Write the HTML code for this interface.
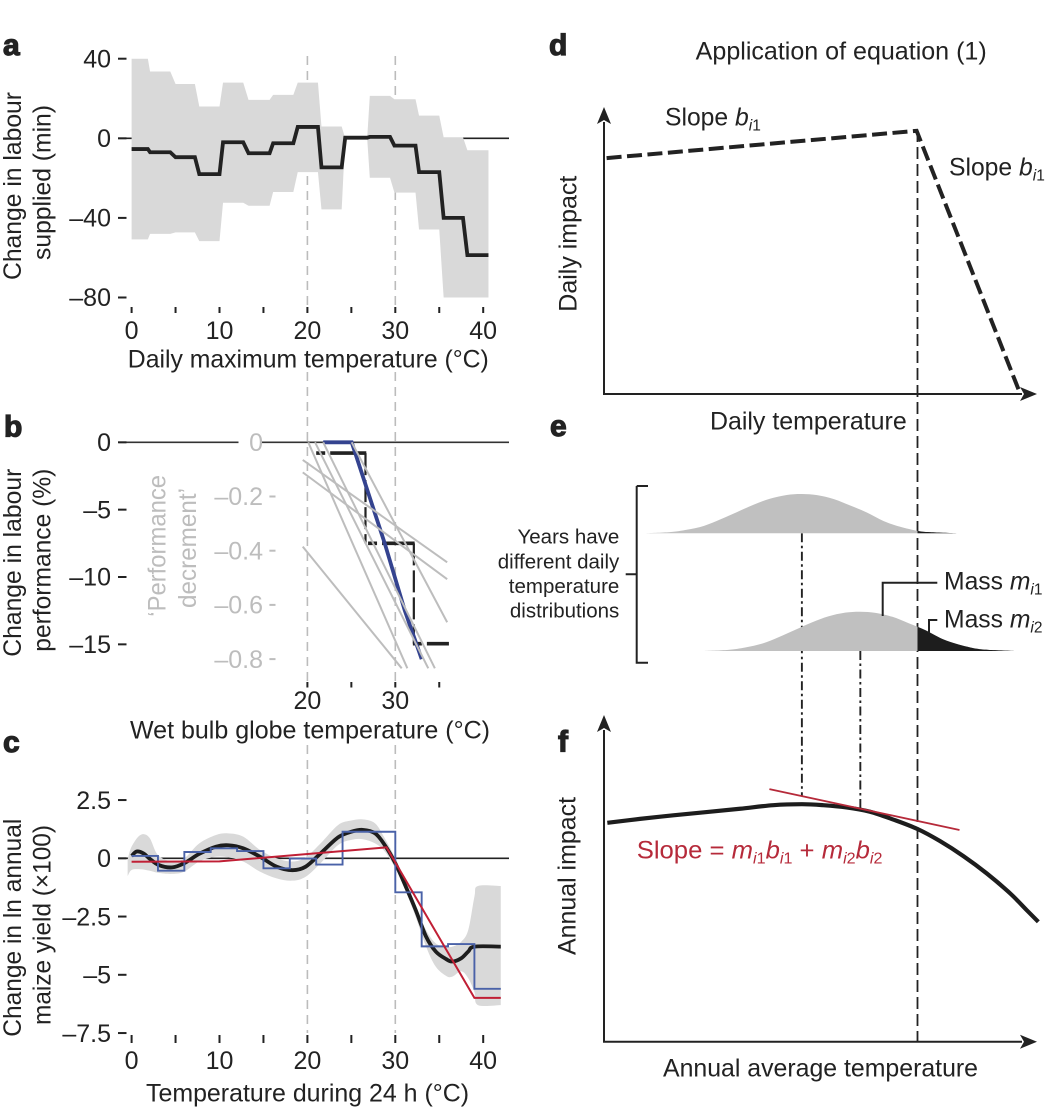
<!DOCTYPE html>
<html lang="en">
<head>
<meta charset="utf-8">
<title>Temperature impact panels</title>
<style>
html,body{margin:0;padding:0;background:#fff;width:1052px;height:1108px;overflow:hidden}
svg{display:block}
text{font-family:"Liberation Sans",Arial,sans-serif;fill:#222}
.lab{font-size:24.7px}
.sm{font-size:20.5px}
.pl{font-size:30px;font-weight:700;stroke:#222;stroke-width:1.2px}
.gr{fill:#bdbdbd}
.it{font-style:italic}
</style>
</head>
<body>
<svg id="fig" xmlns="http://www.w3.org/2000/svg" width="1052" height="1108" viewBox="0 0 1052 1108">
  <g id="guides"></g>
  <g id="pa"></g>
  <g id="pb"></g>
  <g id="pc"></g>
  <g id="pd"></g>
  <g id="pe"></g>
  <g id="pf"></g>

  <!-- panel letters -->
  <text class="pl" x="3" y="55">a</text>
  <text class="pl" x="4" y="436.5">b</text>
  <text class="pl" x="3" y="752">c</text>
  <text class="pl" x="549" y="55">d</text>
  <text class="pl" x="550" y="436">e</text>
  <text class="pl" x="558" y="751.5">f</text>

  <!-- left axis titles -->
  <text class="lab" x="127.8" y="367.5" textLength="361" lengthAdjust="spacingAndGlyphs">Daily maximum temperature (°C)</text>
  <text class="lab" x="130" y="738.5" textLength="360" lengthAdjust="spacingAndGlyphs">Wet bulb globe temperature (°C)</text>
  <text class="lab" x="146" y="1101.5" textLength="323" lengthAdjust="spacingAndGlyphs">Temperature during 24 h (°C)</text>

  <text class="lab" transform="translate(21,280) rotate(-90)" textLength="188" lengthAdjust="spacingAndGlyphs">Change in labour</text>
  <text class="lab" transform="translate(50.7,260) rotate(-90)" textLength="155" lengthAdjust="spacingAndGlyphs">supplied (min)</text>
  <text class="lab" transform="translate(21,656.7) rotate(-90)" textLength="188" lengthAdjust="spacingAndGlyphs">Change in labour</text>
  <text class="lab" transform="translate(50.7,651.7) rotate(-90)" textLength="183" lengthAdjust="spacingAndGlyphs">performance (%)</text>
  <text class="lab" transform="translate(21,1036.7) rotate(-90)" textLength="218" lengthAdjust="spacingAndGlyphs">Change in ln annual</text>
  <text class="lab" transform="translate(50.7,1025) rotate(-90)" textLength="200" lengthAdjust="spacingAndGlyphs">maize yield (×100)</text>
  <text class="lab gr" transform="translate(165.6,616.7) rotate(-90)" textLength="141.7" lengthAdjust="spacingAndGlyphs">‘Performance</text>
  <text class="lab gr" transform="translate(196,608) rotate(-90)" textLength="120" lengthAdjust="spacingAndGlyphs">decrement’</text>

  <!-- panel d text -->
  <text class="lab" x="695.7" y="59.3" textLength="291" lengthAdjust="spacingAndGlyphs">Application of equation (1)</text>
  <text class="lab" x="665" y="125.7">Slope <tspan class="it">b</tspan><tspan class="it" font-size="15.5" dy="5">i</tspan><tspan font-size="15.5">1</tspan></text>
  <text class="lab" x="949" y="175.7">Slope <tspan class="it">b</tspan><tspan class="it" font-size="15.5" dy="5">i</tspan><tspan font-size="15.5">1</tspan></text>
  <text class="lab" transform="translate(576.7,311.7) rotate(-90)" textLength="136" lengthAdjust="spacingAndGlyphs">Daily impact</text>
  <text class="lab" x="710" y="429.3" textLength="196.7" lengthAdjust="spacingAndGlyphs">Daily temperature</text>

  <!-- panel e text -->
  <g text-anchor="end">
    <text class="sm" x="619.3" y="543.3">Years have</text>
    <text class="sm" x="619.3" y="568.3">different daily</text>
    <text class="sm" x="619.3" y="593">temperature</text>
    <text class="sm" x="619.3" y="617.7">distributions</text>
  </g>
  <text class="lab" x="944" y="589.3">Mass <tspan class="it">m</tspan><tspan class="it" font-size="15.5" dy="5">i</tspan><tspan font-size="15.5">1</tspan></text>
  <text class="lab" x="944" y="627.3">Mass <tspan class="it">m</tspan><tspan class="it" font-size="15.5" dy="5">i</tspan><tspan font-size="15.5">2</tspan></text>
  <path d="M636.7 486H648M636.7 486V662.7H648M625.7 574.3H636.7" fill="none" stroke="#222" stroke-width="2"/>
  <path d="M882.7 616V582.7H937.3" fill="none" stroke="#222" stroke-width="2"/>
  <path d="M929 632.7V620H937.3" fill="none" stroke="#222" stroke-width="2"/>

  <!-- panel f text -->
  <text class="lab" transform="translate(575.7,955) rotate(-90)" textLength="158" lengthAdjust="spacingAndGlyphs">Annual impact</text>
  <text class="lab" x="663" y="1076.7" textLength="315" lengthAdjust="spacingAndGlyphs">Annual average temperature</text>
  <text class="lab" transform="translate(636.7,858.3) scale(1.04,1)" style="fill:#b62a3a"><tspan style="fill:#b62a3a">Slope = </tspan><tspan class="it" style="fill:#b62a3a">m</tspan><tspan class="it" style="fill:#b62a3a" font-size="15.5" dy="5">i</tspan><tspan style="fill:#b62a3a" font-size="15.5">1</tspan><tspan class="it" style="fill:#b62a3a" dy="-5">b</tspan><tspan class="it" style="fill:#b62a3a" font-size="15.5" dy="5">i</tspan><tspan style="fill:#b62a3a" font-size="15.5">1</tspan><tspan style="fill:#b62a3a" dy="-5"> + </tspan><tspan class="it" style="fill:#b62a3a">m</tspan><tspan class="it" style="fill:#b62a3a" font-size="15.5" dy="5">i</tspan><tspan style="fill:#b62a3a" font-size="15.5">2</tspan><tspan class="it" style="fill:#b62a3a" dy="-5">b</tspan><tspan class="it" style="fill:#b62a3a" font-size="15.5" dy="5">i</tspan><tspan style="fill:#b62a3a" font-size="15.5">2</tspan></text>

  <!-- schematic axes -->
  <path d="M604 122V394H1022" fill="none" stroke="#222" stroke-width="2"/>
  <path d="M604 107L611 124L604 120L597 124Z" fill="#222"/>
  <path d="M1037 394L1020 387L1024 394L1020 401Z" fill="#222"/>
  <path d="M604 730V1041.7H1022" fill="none" stroke="#222" stroke-width="2"/>
  <path d="M604 715L611 732L604 728L597 732Z" fill="#222"/>
  <path d="M1037 1041.7L1020 1034.7L1024 1041.7L1020 1048.7Z" fill="#222"/>
</svg>

<script>
// ---------- Panel a data ----------
const aBinLow = [0,2.1,5,7.7,10.4,13.3,16.1,18.9,21.6,24.3,27.1,29.9,32.7,35.5,38.2];
const aBinHigh = [1.85,4.4,7.2,10,12.7,15.7,18.4,21.2,23.9,26.8,29.4,32.3,35,37.7,40.6];
const aEstimate = [-5.4,-7,-9.5,-18,-2,-7.5,-2.5,5.7,-14.6,0.3,0.7,-3.7,-17,-40,-58.7];
const aUpper = [40,33.6,27.3,16,28,19.3,21.8,28,5.9,0,21.3,19.6,11.4,0.5,-6];
const aLower = [-50.8,-48,-47.3,-51.7,-32.4,-33.9,-27,-17,-35.7,0,-19.8,-27.3,-45.8,-80,-80];
const aYTicks = [40,0,-40,-80];
const aYTickLabels = ['40','0','–40','–80'];
const xTicksFull = [0,5,10,15,20,25,30,35,40];
const xLabelValues = [0,10,20,30,40];

// ---------- Panel b data ----------
const bLevelLow = [21,26.9,32];
const bLevelHigh = [26.7,32.2,36.1];
const bLevelValue = [-0.8,-7.5,-14.95];
const bYTicks = [0,-5,-10,-15];
const bYTickLabels = ['0','–5','–10','–15'];
const bDecTicks = [0,-0.2,-0.4,-0.6,-0.8];
const bDecTickLabels = ['0','–0.2','–0.4','–0.6','–0.8'];
const bXTicks = [20,25,30,35];
const bXLabels = [20,30];
const studyStartTemp = [19.47,19.47,19.47,20.1,20.87,21.8,25.04];
const studyStartDec = [-0.065,-0.111,-0.385,0,0,0,0];
const studyEndTemp = [35.9,35.9,30.73,31.37,33.75,34.5,35.9];
const studyEndDec = [-0.443,-0.505,-0.834,-0.834,-0.834,-0.834,-0.664];
const bBlueTemp = [21.8,25.04,28.8,31.07,33];
const bBlueDec = [0,0,-0.373,-0.62,-0.8];

// ---------- Panel c data ----------
const cStepEdges = [0,3,6,9,12,15,18,21,24,27,30,33,36,39,42];
const cStepValues = [0.1,-0.53,0.27,0.43,0.31,-0.43,-0.01,-0.27,1.14,1.14,-1.46,-3.78,-3.68,-5.6];
const cRedTemp = [0,10,29,39,42];
const cRedValue = [-0.15,-0.13,0.47,-5.99,-5.99];
const cCurveTemp = [0,0.58,1.35,2,3.1,4.6,6,7.7,9.6,11,12.7,14.6,16.5,18.3,19.8,21.5,23.5,25,26.3,27.7,28.8,30,31.2,32.3,33.5,34.6,35.8,36.5,37.5,38.3,39,42];
const cCurveValue = [0.1,0.29,0.21,0,-0.29,-0.39,-0.21,0.19,0.5,0.56,0.43,0.07,-0.36,-0.51,-0.36,0.21,0.9,1.14,1.22,1.07,0.57,-0.21,-1.22,-2.2,-3.36,-4,-4.33,-4.43,-4.29,-4,-3.79,-3.79];
const cBandTemp = [-0.45,0,1,2,3,4.6,6,7.7,9.6,11,12.7,14.6,16.5,18.3,19.8,21.5,23.5,25,26.3,27.7,28.8,30,31.2,32.3,33.5,34.6,35.8,36.5,37.5,38.3,39,39.4,42];
const cBandUpper = [-0.05,0.5,1,0.9,0.14,-0.14,0,0.64,1,1.07,0.93,0.36,0,-0.14,0.04,0.64,1.43,1.62,1.67,1.5,0.86,0,-1.07,-2.07,-3.08,-3.65,-3.79,-3.79,-3.58,-3.08,-1.65,-1.19,-1.19];
const cBandLower = [-0.76,-0.5,-0.47,-0.53,-0.62,-0.67,-0.57,-0.14,0.07,0.04,-0.14,-0.57,-0.86,-0.96,-0.79,-0.21,0.57,0.79,0.82,0.64,0.29,-0.43,-1.43,-2.5,-3.79,-4.65,-5.05,-5.08,-4.85,-5.15,-5.74,-6.3,-6.3];
const cYTicks = [2.5,0,-2.5,-5,-7.5];
const cYTickLabels = ['2.5','0','–2.5','–5','–7.5'];

// ---------- Panels d–f data (schematic units 0–100) ----------
const dDailyTemp = [0.6,72.2,96.1];
const dDailyImpact = [82.2,91.7,0.2];
const kinkTemp = 72.4;
const yearMeans = [45.7,59.2];
const distOffset = [-36.5,-30.5,-26.6,-22.6,-18.9,-15,-11.1,-7.4,-3.5,0,3.5,7.4,11.1,15,18.9,22.6,26.8,29.6,36.3];
const distDensity = [0,0.03,0.09,0.19,0.35,0.54,0.73,0.88,0.975,1,0.97,0.87,0.71,0.53,0.31,0.17,0.06,0.03,0];
const fAnnualTemp = [0.77,8.3,16,23.7,31.4,39.1,45.7,50.6,56,61.4,66.8,72.4,77.6,83,88.4,93.8,97.6,100.3];
const fAnnualImpact = [67,68.2,69.3,70.3,71.3,72.4,72.7,72.4,71.7,70.4,68,65.1,61.4,56.8,51.5,45.4,40.3,36.7];
const fTangentTemp = [38.2,82.1];
const fTangentImpact = [77.3,64.8];
const refTemps = [20,30];

// ---------- Scales ----------
const xT = t => 131.6 + t * 8.79;
const yA = v => 138.3 - v * 1.99;
const yB = v => 442.3 - v * 13.47;
const yDec = d => 442.3 - d * 271;
const yC = v => 858.3 - v * 23.3;
const xS = t => 604 + t * 4.33;
const yD = v => 394 - v * 2.87;
const yF = v => 1041.7 - v * 3.267;
const distBaseline = [533.3,651];
const distHeight = 39.3;

const NS = 'http://www.w3.org/2000/svg';
const $ = id => document.getElementById(id);
function mk(parent, tag, attrs) {
  const el = document.createElementNS(NS, tag);
  for (const k in attrs) el.setAttribute(k, attrs[k]);
  parent.appendChild(el);
  return el;
}
const linePath = pts => 'M' + pts.map(p => p[0].toFixed(2) + ' ' + p[1].toFixed(2)).join('L');
function smoothPath(pts) {
  let d = 'M' + pts[0][0].toFixed(2) + ' ' + pts[0][1].toFixed(2);
  for (let i = 0; i < pts.length - 1; i++) {
    const p0 = pts[Math.max(i - 1, 0)], p1 = pts[i], p2 = pts[i + 1], p3 = pts[Math.min(i + 2, pts.length - 1)];
    const c1 = [p1[0] + (p2[0] - p0[0]) / 6, p1[1] + (p2[1] - p0[1]) / 6];
    const c2 = [p2[0] - (p3[0] - p1[0]) / 6, p2[1] - (p3[1] - p1[1]) / 6];
    d += 'C' + c1[0].toFixed(2) + ' ' + c1[1].toFixed(2) + ' ' + c2[0].toFixed(2) + ' ' + c2[1].toFixed(2) + ' ' + p2[0].toFixed(2) + ' ' + p2[1].toFixed(2);
  }
  return d;
}
function tickLabel(parent, x, y, str, anchor, fill) {
  const el = mk(parent, 'text', {x: x, y: y, 'text-anchor': anchor, 'font-size': 25});
  if (fill) el.style.fill = fill;
  el.textContent = str;
  return el;
}
function yAxis(parent, ticks, labels, scale, rightX, t1, t2, color) {
  ticks.forEach((v, i) => {
    const y = scale(v);
    const tk = mk(parent, 'line', {x1: t1, x2: t2, y1: y, y2: y, stroke: color, 'stroke-width': 2});
    
    
    const lb = tickLabel(parent, rightX, y + 8.7, labels[i], 'end', color === '#222' ? '' : color);
    
    
  });
}
function xAxis(parent, ticks, labelled, y1, y2, baseline) {
  ticks.forEach(t => {
    const tk = mk(parent, 'line', {x1: xT(t), x2: xT(t), y1: y1, y2: y2, stroke: '#222', 'stroke-width': 2});
    
    
  });
  labelled.forEach(t => {
    const lb = tickLabel(parent, xT(t), baseline, String(t), 'middle');
    
    
  });
}

// ---------- Reference dashed lines ----------
const guideSpans = [[56,310],[372,683],[745,1033]];
refTemps.forEach(t => guideSpans.forEach(s => {
  const g = mk($('guides'), 'line', {x1: xT(t), x2: xT(t), y1: s[0], y2: s[1], stroke: '#bcbcbc', 'stroke-width': 1.6, 'stroke-dasharray': '9 6'});
  
  
}));

// ---------- Panel a ----------
const pa = $('pa');
const aZero = mk(pa, 'line', {x1: 118, x2: 509, y1: yA(0), y2: yA(0), stroke: '#222', 'stroke-width': 1.6});


const aTop = [], aBot = [], aMid = [];
aBinLow.forEach((lo, i) => {
  aTop.push([xT(lo), yA(aUpper[i])], [xT(aBinHigh[i]), yA(aUpper[i])]);
  aBot.push([xT(lo), yA(aLower[i])], [xT(aBinHigh[i]), yA(aLower[i])]);
  aMid.push([xT(lo), yA(aEstimate[i])], [xT(aBinHigh[i]), yA(aEstimate[i])]);
});
const aBand = mk(pa, 'path', {d: linePath(aTop.concat(aBot.slice().reverse())) + 'Z', fill: '#d9d9d9'});


const aLine = mk(pa, 'path', {d: linePath(aMid), fill: 'none', stroke: '#222', 'stroke-width': 3.8});


yAxis(pa, aYTicks, aYTickLabels, yA, 111, 118, 126.5, '#222');
xAxis(pa, xTicksFull, xLabelValues, 307, 313, 339);

// ---------- Panel b ----------
const pb = $('pb');
const bZeroL = mk(pb, 'line', {x1: 119, x2: 238.5, y1: yB(0), y2: yB(0), stroke: '#333', 'stroke-width': 1.6});


const bZeroR = mk(pb, 'line', {x1: 260, x2: 509, y1: yB(0), y2: yB(0), stroke: '#333', 'stroke-width': 1.6});


bLevelLow.forEach((lo, i) => {
  const lv = mk(pb, 'line', {x1: xT(lo), x2: xT(bLevelHigh[i]), y1: yB(bLevelValue[i]), y2: yB(bLevelValue[i]), stroke: '#222', 'stroke-width': 3.6, 'stroke-dasharray': '9 5 1000'});
  
  
  if (i < bLevelLow.length - 1) {
    const vt = mk(pb, 'line', {x1: xT(bLevelHigh[i]) - 0.8, x2: xT(bLevelHigh[i]) - 0.8, y1: yB(bLevelValue[i]), y2: yB(bLevelValue[i + 1]), stroke: '#222', 'stroke-width': 2.2, 'stroke-dasharray': '22 5'});
    
    
  }
});
const bBlue = mk(pb, 'path', {d: linePath(bBlueTemp.map((t, i) => [xT(t), yDec(bBlueDec[i])])), fill: 'none', stroke: '#34438f', 'stroke-width': 3.8});


studyStartTemp.forEach((t, i) => {
  const l = mk(pb, 'line', {x1: xT(t), y1: yDec(studyStartDec[i]), x2: xT(studyEndTemp[i]), y2: yDec(studyEndDec[i]), stroke: '#bdbdbd', 'stroke-width': 2});
  
  
});
yAxis(pb, bYTicks, bYTickLabels, yB, 111, 118, 126.5, '#222');
yAxis(pb, bDecTicks.slice(1), bDecTickLabels.slice(1), yDec, 263, 269.4, 275.5, '#bdbdbd');
const bGreyZero = tickLabel(pb, 263, yDec(bDecTicks[0]) + 8.7, bDecTickLabels[0], 'end', '#bdbdbd');


xAxis(pb, bXTicks, bXLabels, 682, 687.5, 709);

// ---------- Panel c ----------
const pc = $('pc');
const cZero = mk(pc, 'line', {x1: 119, x2: 509, y1: yC(0), y2: yC(0), stroke: '#222', 'stroke-width': 1.6});


const cTop = cBandTemp.map((t, i) => [xT(t), yC(cBandUpper[i])]);
const cBot = cBandTemp.map((t, i) => [xT(t), yC(cBandLower[i])]);
const cBand = mk(pc, 'path', {d: smoothPath(cTop) + smoothPath(cBot.slice().reverse()).replace('M', 'L') + 'Z', fill: '#d9d9d9'});


const cCurve = mk(pc, 'path', {d: smoothPath(cCurveTemp.map((t, i) => [xT(t), yC(cCurveValue[i])])), fill: 'none', stroke: '#1d1d1d', 'stroke-width': 3.8});


const cStepPts = [];
cStepValues.forEach((v, i) => { cStepPts.push([xT(cStepEdges[i]), yC(v)], [xT(cStepEdges[i + 1]), yC(v)]); });
const cStep = mk(pc, 'path', {d: linePath(cStepPts), fill: 'none', stroke: '#4a62a8', 'stroke-width': 1.9});


const cRed = mk(pc, 'path', {d: linePath(cRedTemp.map((t, i) => [xT(t), yC(cRedValue[i])])), fill: 'none', stroke: '#c01f35', 'stroke-width': 2});


yAxis(pc, cYTicks, cYTickLabels, yC, 111, 118, 126.5, '#222');
xAxis(pc, xTicksFull, xLabelValues, 1035, 1043, 1069);

// ---------- Panels d, e, f ----------
const pd = $('pd'), pe = $('pe'), pf = $('pf');
const kink = mk(pd, 'line', {x1: xS(kinkTemp), x2: xS(kinkTemp), y1: 130, y2: 1041, stroke: '#222', 'stroke-width': 1.8, 'stroke-dasharray': '12 5'});


const dLine = mk(pd, 'path', {d: linePath(dDailyTemp.map((t, i) => [xS(t), yD(dDailyImpact[i])])), fill: 'none', stroke: '#222', 'stroke-width': 4, 'stroke-dasharray': '15 5.5'});



const meanA = mk(pe, 'line', {x1: xS(yearMeans[0]), x2: xS(yearMeans[0]), y1: distBaseline[0], y2: 796, stroke: '#222', 'stroke-width': 1.9, 'stroke-dasharray': '9 3.5 2.5 3.5'});


const meanB = mk(pe, 'line', {x1: xS(yearMeans[1]), x2: xS(yearMeans[1]), y1: distBaseline[1], y2: 808, stroke: '#222', 'stroke-width': 1.9, 'stroke-dasharray': '9 3.5 2.5 3.5'});



const defs = mk(pe, 'defs', {});
const clip = mk(defs, 'clipPath', {id: 'beyond-kink'});
mk(clip, 'rect', {x: xS(kinkTemp), y: 0, width: 400, height: 1108});
yearMeans.forEach((m, k) => {
  const base = distBaseline[k];
  const d = smoothPath(distOffset.map((o, i) => [xS(m + o), base - distDensity[i] * distHeight])) + 'Z';
  const grey = mk(pe, 'path', {d: d, fill: '#c0c0c0'});
  
  
  const tail = mk(pe, 'path', {d: d, fill: '#1d1d1d', 'clip-path': 'url(#beyond-kink)'});
  
  
});

const fCurve = mk(pf, 'path', {d: smoothPath(fAnnualTemp.map((t, i) => [xS(t), yF(fAnnualImpact[i])])), fill: 'none', stroke: '#1d1d1d', 'stroke-width': 4.2});


const fTan = mk(pf, 'line', {x1: xS(fTangentTemp[0]), y1: yF(fTangentImpact[0]), x2: xS(fTangentTemp[1]), y2: yF(fTangentImpact[1]), stroke: '#b62a3a', 'stroke-width': 1.8});


</script>
</body>
</html>
